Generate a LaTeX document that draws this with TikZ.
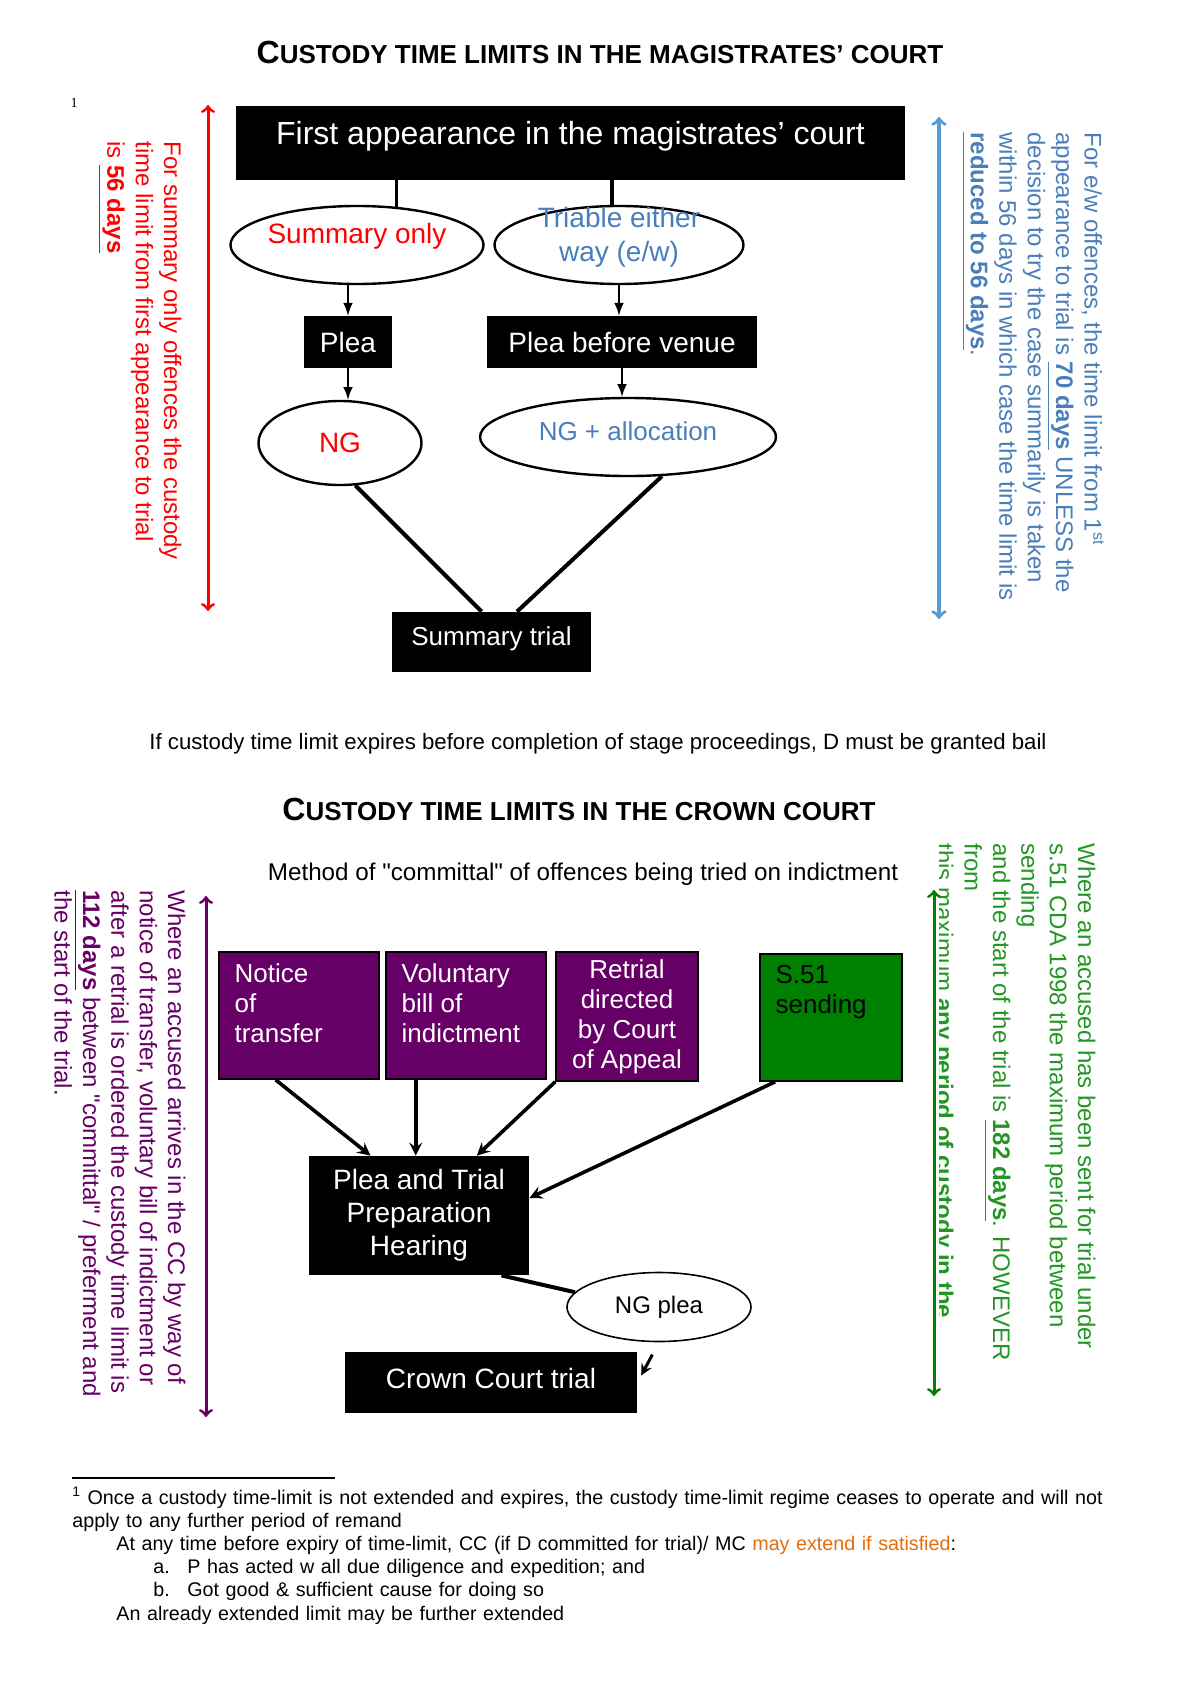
\documentclass[tikz,border=0pt]{standalone}
\usepackage{fontspec}
\setmainfont{Liberation Sans}
\newfontfamily\serifmark{Liberation Serif}
\usetikzlibrary{shapes.geometric, arrows, positioning, calc}
\definecolor{cred}{RGB}{255,0,0}
\definecolor{cblue}{RGB}{74,126,187}
\definecolor{cbluearrow}{RGB}{91,155,213}
\definecolor{cpurple}{RGB}{102,0,102}
\definecolor{cgreen}{RGB}{0,128,0}
\definecolor{cgreentext}{RGB}{34,150,34}
\definecolor{corange}{RGB}{228,108,10}
\tikzset{
  heading/.style={font=\bfseries},
  blackbox/.style={rectangle, fill=black, text=white, inner sep=0pt, align=center, font=\fontsize{14}{16.5}\selectfont},
  purplebox/.style={rectangle, draw=black, line width=0.8pt, fill=cpurple, inner sep=0pt},
  greenbox/.style={rectangle, draw=black, line width=0.8pt, fill=cgreen, inner sep=0pt},
  boxtext/.style={anchor=north west, inner xsep=8pt, inner ysep=6pt, align=left, text=white, font=\fontsize{13}{15}\selectfont},
  oval/.style={ellipse, draw=black, line width=1.2pt, fill=white, inner sep=0pt, align=center, font=\fontsize{14}{17}\selectfont},
  sidenote/.style={rotate=-90, anchor=north west, inner sep=0pt, align=left, font=\fontsize{12}{14.2}\selectfont},
  plaintext/.style={inner sep=0pt, font=\fontsize{11.1}{13}\selectfont},
  arrow/.style={line width=1.2pt, ->, >=latex},
  bigarrow/.style={line width=1.8pt, ->, >=stealth},
  link/.style={line width=1.6pt},
  limit/.style={line width=1.5pt, <->, >=to}
}

\begin{document}
\begin{tikzpicture}[x=0.5pt, y=-0.5pt]
\useasboundingbox (0,0) rectangle (1200,1696);

% Headings
\node (title1) [heading] at (600,52) {{\fontsize{16}{16}\selectfont C}{\fontsize{13}{16}\selectfont USTODY TIME LIMITS IN THE MAGISTRATES’ COURT}};
\node (fnmark) [font=\serifmark\fontsize{7}{8}\selectfont, inner sep=0pt] at (74,103) {1};

% Magistrates' court nodes
\node (first) [blackbox, minimum width=334.5pt, minimum height=37pt, font=\fontsize{16}{18}\selectfont, text height=12pt, text depth=10pt] at (570.5,143) {First appearance in the magistrates’ court};
\node (summ) [oval, text=cred, minimum width=123.5pt, minimum height=39pt, text height=10pt, text depth=12pt] at (357,245) {Summary only};
\node (triable) [oval, minimum width=124.5pt, minimum height=39pt, label={[text=cblue, align=center, font=\fontsize{14}{17}\selectfont, yshift=4pt]center:Triable either\\way (e/w)}] at (619,245) {};
\node (plea) [blackbox, minimum width=44pt, minimum height=26pt] at (348,342) {Plea};
\node (pbv) [blackbox, minimum width=135pt, minimum height=26pt] at (622,342) {Plea before venue};
\node (ng) [oval, text=cred, minimum width=81.5pt, minimum height=42pt] at (340,443) {NG};
\node (nga) [oval, text=cblue, minimum width=148pt, minimum height=39pt, font=\fontsize{13}{15}\selectfont, text height=10pt, text depth=7pt] at (628,437) {NG + allocation};
\node (strial) [blackbox, minimum width=99.5pt, minimum height=30pt, font=\fontsize{13}{15}\selectfont, text height=10pt, text depth=7pt] at (491.5,642) {Summary trial};

% Side notes
\coordinate (redtop) at (208,105);
\coordinate (redbot) at (208,611);
\coordinate (bluetop) at (939,117);
\coordinate (bluebot) at (939,619);
\node (redtext) [sidenote, text=cred] at (182,141) {For summary only offences the custody\\time limit from first appearance to trial\\is \underline{\textbf{56 days}}};
\node (bluetext) [sidenote, text=cblue] at (1104,132) {For e/w offences, the time limit from 1\textsuperscript{st}\\appearance to trial is \underline{\textbf{70 days}} UNLESS the\\decision to try the case summarily is taken\\within 56 days in which case the time limit is\\\underline{\textbf{reduced to 56 days}}.};

% Arrows
\draw [link] (summ.44 |- first.south) -- (summ.44);
\draw [link] (triable.100 |- first.south) -- (triable.100);
\draw [arrow] (summ.south -| plea) -- (plea.north);
\draw [arrow] (triable.south) -- (triable.south |- pbv.north);
\draw [arrow] (plea.south) -- (plea.south |- ng.north);
\draw [arrow] (pbv.south) -- (pbv.south |- nga.north);
\draw [link, line width=2pt] (ng.-70) -- (strial.108);
\draw [link, line width=2pt] (nga.-49) -- (strial.50);
\draw [limit, cred] (redtop) -- (redbot);
\draw [limit, cbluearrow, line width=1.7pt] (bluetop) -- (bluebot);

% Middle texts
\node (bail) [plaintext] at (598,744) {If custody time limit expires before completion of stage proceedings, D must be granted bail};
\node (title2) [heading] at (579,809) {{\fontsize{16}{16}\selectfont C}{\fontsize{13}{16}\selectfont USTODY TIME LIMITS IN THE CROWN COURT}};
\node (method) [plaintext, font=\fontsize{12.1}{14}\selectfont] at (583,874) {Method of \textquotedbl committal\textquotedbl{} of offences being tried on indictment};

% Crown court nodes
\node (notice) [purplebox, minimum width=80pt, minimum height=63.5pt, label={[boxtext]north west:Notice\\of\\transfer}] at (299,1015.5) {};
\node (vol) [purplebox, minimum width=80pt, minimum height=63.5pt, label={[boxtext]north west:Voluntary\\bill of\\indictment}] at (466,1015.5) {};
\node (retrial) [purplebox, minimum width=71pt, minimum height=64.5pt, text=white, align=center, font=\fontsize{13}{15}\selectfont] at (627,1016.5) {Retrial\\directed\\by Court\\of Appeal};
\node (s51) [greenbox, minimum width=71pt, minimum height=63.5pt, label={[boxtext, text=black]north west:S.51\\sending}] at (831,1017.5) {};
\node (ptph) [blackbox, minimum width=110pt, minimum height=59.5pt] at (419,1215.5) {Plea and Trial\\Preparation\\Hearing};
\node (ngplea) [oval, line width=0.8pt, minimum width=92pt, minimum height=34.5pt, font=\fontsize{12}{14}\selectfont] at (659,1307) {NG plea};
\node (crown) [blackbox, minimum width=146pt, minimum height=30.5pt, text height=10pt, text depth=4.5pt] at (491,1382.5) {Crown Court trial};

% Side notes
\coordinate (purpletop) at (206,896);
\coordinate (purplebot) at (206,1417);
\coordinate (greentop) at (934,890);
\coordinate (greenbot) at (934,1396);
\node (purpletext) [sidenote, text=cpurple] at (186,890) {Where an accused arrives in the CC by way of\\notice of transfer, voluntary bill of indictment or\\after a retrial is ordered the custody time limit is\\\underline{\textbf{112 days}} between \textquotedbl committal\textquotedbl{} / preferment and\\the start of the trial.};
\begin{scope}
  \clip (939,800) rectangle (1200,1450);
  \node (greentext) [sidenote, text=cgreentext] at (1096,843) {Where an accused has been sent for trial under\\s.51 CDA 1998 the maximum period between\\sending\\and the start of the trial is \underline{\textbf{182 days}}. HOWEVER\\from\\this maximum \textbf{any period of custody in the}};
\end{scope}

% Arrows
\draw [bigarrow] (notice.-110) -- (ptph.129);
\draw [bigarrow] (vol.-128) -- (vol.-128 |- ptph.north);
\draw [bigarrow] (retrial.south west) -- (ptph.46);
\draw [bigarrow] (s51.-131) -- (ptph.9);
\draw [link, line width=2pt] (ptph.-36) -- (ngplea.170);
\draw [bigarrow, line width=1.5pt, shorten <=7pt, shorten >=4pt] (ngplea.south) -- (crown.east);
\draw [limit, cpurple] (purpletop) -- (purplebot);
\draw [limit, cgreen] (greentop) -- (greenbot);

% Footnote
\draw [line width=1pt] (72,1478) -- (335,1478);
\node (footnote) [plaintext, font=\fontsize{9.85}{11.6}\selectfont, anchor=north west, text width=560pt, align=left] at (72,1487) {\textsuperscript{1} Once a custody time-limit is not extended and expires, the custody time-limit regime ceases to operate and will not\\
apply to any further period of remand\\
\hspace*{22pt}At any time before expiry of time-limit, CC (if D committed for trial)/ MC \textcolor{corange}{may extend if satisfied}:\\
\hspace*{40.5pt}\makebox[17pt][l]{a.}P has acted w all due diligence and expedition; and\\
\hspace*{40.5pt}\makebox[17pt][l]{b.}Got good \& sufficient cause for doing so\\
\hspace*{22pt}An already extended limit may be further extended};
\end{tikzpicture}
\end{document}
